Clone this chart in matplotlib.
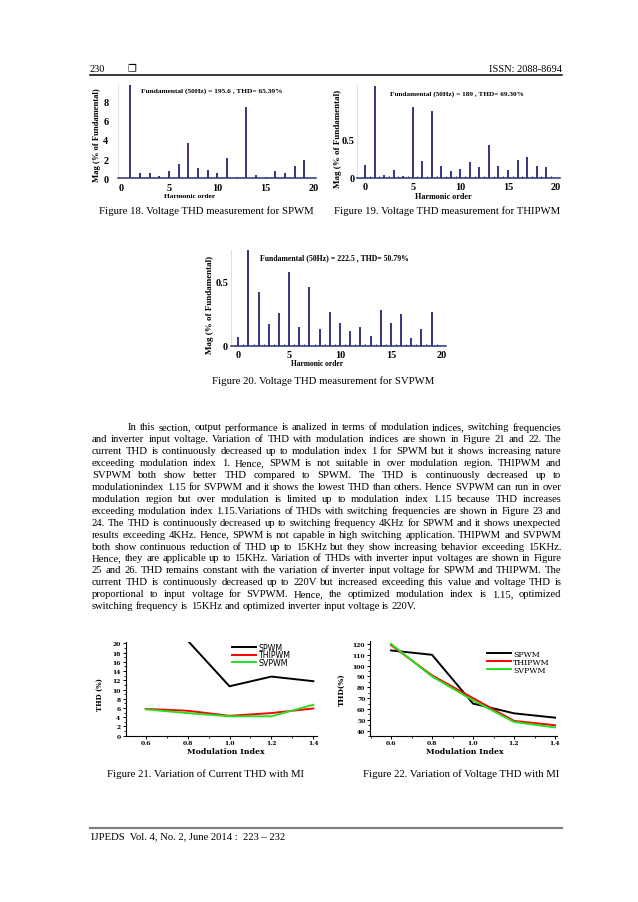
import matplotlib
matplotlib.use("Agg")
import matplotlib.pyplot as plt
from matplotlib.ticker import MultipleLocator

W, H = 638, 903
fig = plt.figure(figsize=(W / 100, H / 100), dpi=100)
fig.patch.set_facecolor("white")

SERIF = ["Liberation Serif", "DejaVu Serif"]
BAR = "#2b2f77"

# ------------------------------------------------------------------ data
harmonic_order = list(range(20))
spwm_mag = [0.0, 9.74, 0.52, 0.52, 0.2, 0.73, 1.5, 3.69, 1.04, 0.9,
            0.52, 2.12, 0.17, 7.41, 0.38, 0.1, 0.8, 0.56, 1.32, 1.95]
thipwm_mag = [0.167, 1.18, 0.04, 0.10, 0.03, 0.906, 0.222, 0.863, 0.15, 0.09,
              0.115, 0.20, 0.137, 0.423, 0.15, 0.107, 0.235, 0.274, 0.158, 0.145]
svpwm_mag = [0.065, 0.743, 0.42, 0.168, 0.25, 0.57, 0.148, 0.453, 0.13, 0.264,
             0.179, 0.111, 0.148, 0.075, 0.277, 0.179, 0.249, 0.06, 0.13, 0.259]
inter_order = [0.5, 1.5, 2.5, 3.5, 4.5, 5.5, 6.5, 7.5, 8.5, 9.5,
               10.5, 11.5, 12.5, 13.5, 14.5, 15.5, 16.5, 17.5, 18.5, 19.5]
thipwm_inter = [0.02, 0.02, 0.02, 0.03, 0.03, 0.02, 0.02, 0.02, 0.02, 0.02,
                0.02, 0.02, 0.02, 0.02, 0.02, 0.02, 0.02, 0.02, 0.02, 0.02]
svpwm_inter = [0.015, 0.015, 0.015, 0.015, 0.015, 0.015, 0.015, 0.015, 0.015, 0.015,
               0.015, 0.015, 0.015, 0.015, 0.015, 0.015, 0.015, 0.015, 0.015, 0.015]

mod_index = [0.6, 0.8, 1.0, 1.2, 1.4]
mod_index_labels = ["0.6", "0.8", "1.0", "1.2", "1.4"]
cur_spwm = [28.0, 20.6, 10.7, 12.8, 11.8]
cur_thipwm = [5.8, 5.4, 4.3, 4.9, 5.9]
cur_svpwm = [5.7, 4.9, 4.2, 4.2, 6.7]
vol_spwm = [114, 110, 65, 56, 52]
vol_thipwm = [119, 91, 70, 49, 45]
vol_svpwm = [120, 90, 68, 48, 43]
series_names = ["SPWM", "THIPWM", "SVPWM"]
series_colors = ["#000000", "#ff0000", "#22e022"]

para_lines = [
    "In this section, output performance is analized in terms of modulation indices, switching frequencies",
    "and inverter input voltage. Variation of THD with modulation indices are shown in Figure 21 and 22. The",
    "current THD is continuously decreased up to modulation index 1 for SPWM but it shows increasing nature",
    "exceeding modulation index 1. Hence, SPWM is not suitable in over modulation region. THIPWM and",
    "SVPWM both show better THD compared to SPWM. The THD is continuously decreased up to",
    "modulationindex 1.15 for SVPWM and it shows the lowest THD than others. Hence SVPWM can run in over",
    "modulation region but over modulation is limited up to modulation index 1.15 because THD increases",
    "exceeding modulation index 1.15.Variations of THDs with switching frequencies are shown in Figure 23 and",
    "24. The THD is continuously decreased up to switching frequency 4KHz for SPWM and it shows unexpected",
    "results exceeding 4KHz. Hence, SPWM is not capable in high switching application. THIPWM and SVPWM",
    "both show continuous reduction of THD up to 15KHz but they show increasing behavior exceeding 15KHz.",
    "Hence, they are applicable up to 15KHz. Variation of THDs with inverter input voltages are shown in Figure",
    "25 and 26. THD remains constant with the variation of inverter input voltage for SPWM and THIPWM. The",
    "current THD is continuously decreased up to 220V but increased exceeding this value and voltage THD is",
    "proportional to input voltage for SVPWM. Hence, the optimized modulation index is 1.15, optimized",
    "switching frequency is 15KHz and optimized inverter input voltage is 220V.",
]

# ------------------------------------------------------------------ helpers
fig.canvas.draw()
renderer = fig.canvas.get_renderer()


def add_ax(l, t, r, b):
    return fig.add_axes([l / W, 1 - b / H, (r - l) / W, (b - t) / H])


def ftxt(x, y, s, **kw):
    return fig.text(x / W, 1 - y / H, s, **kw)


def ext(t):
    return t.get_window_extent(renderer)


def fit(t, target, vertical=False):
    bb = ext(t)
    cur = bb.height if vertical else bb.width
    t.set_fontsize(t.get_fontsize() * target / cur)
    return t.get_fontsize()


def to_axes(box, x, y):
    l, t, r, b = box
    return (x - l) / (r - l), (b - y) / (b - t)


# ------------------------------------------------------------------ spectra
def spectrum(box, xl, yl, mags, inter, yticks, yticklabels, ypad, xpad,
             title, title_xy, title_w, xlab_xy, xlab_w, ylab_xy, ylab_len):
    ax = add_ax(*box)
    ax.vlines(harmonic_order, 0, mags, color=BAR, lw=1.35)
    if inter is not None:
        ax.vlines(inter_order, 0, inter, color=BAR, lw=0.8)
    ax.set_xlim(*xl)
    ax.set_ylim(*yl)
    ax.set_xticks([0, 5, 10, 15, 20])
    ax.set_yticks(yticks)
    ax.set_yticklabels(yticklabels)
    for s in ["top", "right"]:
        ax.spines[s].set_visible(False)
    ax.spines["left"].set_color("#d5d5d5")
    ax.spines["left"].set_linewidth(0.5)
    ax.spines["bottom"].set_color(BAR)
    ax.spines["bottom"].set_linewidth(1.1)
    ax.tick_params(axis="both", length=0, labelsize=7.4)
    ax.tick_params(axis="y", pad=ypad)
    ax.tick_params(axis="x", pad=xpad)
    for lab in ax.get_xticklabels() + ax.get_yticklabels():
        lab.set_fontfamily(SERIF)
        lab.set_fontweight("bold")
    tx, ty = to_axes(box, *title_xy)
    tt = ax.text(tx, ty, title, transform=ax.transAxes, ha="center", va="center",
                 fontfamily=SERIF, fontweight="bold", fontsize=5.5)
    fit(tt, title_w)
    xl_ = ax.set_xlabel("Harmonic order", fontfamily=SERIF, fontweight="bold",
                        fontsize=6, va="center", ha="center")
    ax.xaxis.set_label_coords(*to_axes(box, *xlab_xy))
    fit(xl_, xlab_w)
    yl_ = ax.set_ylabel("Mag (% of Fundamental)", fontfamily=SERIF, fontweight="bold",
                        fontsize=6, va="center", ha="center")
    ax.yaxis.set_label_coords(*to_axes(box, *ylab_xy))
    fit(yl_, ylab_len, vertical=True)
    return ax


box1 = (118, 84.5, 316, 179.3)
spectrum(box1, ((118 - 120.7) / 9.665, (316 - 120.7) / 9.665), (0, 9.9),
         spwm_mag, None, [0, 2, 4, 6, 8], ["0", "2", "4", "6", "8"], 7.0, 3.2,
         "Fundamental (50Hz) = 195.6 , THD= 65.39%", (212, 90.7), 141,
         (190, 196.7), 52, (96.7, 135.5), 95)

box2 = (357, 86.2, 560, 179)
spectrum(box2, ((357 - 365) / 9.535, (560 - 365) / 9.535), (0, 1.19),
         thipwm_mag, thipwm_inter, [0, 0.5], ["0", "0.5"], 1.5, 3.2,
         "Fundamental (50Hz) = 189 , THD= 69.30%", (457, 94), 133,
         (443.7, 197.3), 57, (338, 139), 100)

box3 = (231, 250.7, 446, 346.7)
spectrum(box3, ((231 - 238.3) / 10.17, (446 - 238.3) / 10.17), (0, 0.745),
         svpwm_mag, svpwm_inter, [0, 0.5], ["0", "0.5"], 2.0, 3.0,
         "Fundamental (50Hz) = 222.5 , THD= 50.79%", (334.6, 258.3), 147,
         (316.7, 364), 53, (210, 305), 100)


# ------------------------------------------------------------------ THD vs MI
def thd_axes(box, xl, yl, data, ymajor, yminor, ylabel, ypad, xpad,
             xlab_xy, ylab_xy, leg_xy, leg_family, leg_spacing):
    ax = add_ax(*box)
    for vals, name, c in zip(data, series_names, series_colors):
        ax.plot(mod_index, vals, color=c, lw=1.4, label=name, solid_joinstyle="miter")
    ax.set_xlim(*xl)
    ax.set_ylim(*yl)
    ax.set_xticks(mod_index)
    ax.set_xticklabels(mod_index_labels)
    ax.yaxis.set_major_locator(MultipleLocator(ymajor))
    ax.yaxis.set_minor_locator(MultipleLocator(yminor))
    ax.xaxis.set_minor_locator(MultipleLocator(0.1))
    for s in ["top", "right"]:
        ax.spines[s].set_visible(False)
    for s in ["left", "bottom"]:
        ax.spines[s].set_linewidth(0.8)
    ax.tick_params(which="major", direction="out", length=2.2, width=0.7, labelsize=4.3)
    ax.tick_params(which="minor", direction="out", length=1.2, width=0.6)
    ax.tick_params(axis="y", which="major", pad=ypad)
    ax.tick_params(axis="x", which="major", pad=xpad)
    for lab in ax.get_xticklabels() + ax.get_yticklabels():
        lab.set_fontfamily("DejaVu Serif")
        lab.set_fontweight("bold")
    xl_ = ax.set_xlabel("Modulation Index", fontfamily="DejaVu Serif", fontweight="bold",
                        fontsize=5.5, va="center", ha="center")
    ax.xaxis.set_label_coords(*to_axes(box, *xlab_xy))
    fit(xl_, 77)
    yl_ = ax.set_ylabel(ylabel, fontfamily="DejaVu Serif", fontweight="bold",
                        fontsize=5.5, va="center", ha="center")
    ax.yaxis.set_label_coords(*to_axes(box, *ylab_xy))
    fit(yl_, 33, vertical=True)
    lx, ly = leg_xy
    ax.legend(loc="upper left", bbox_to_anchor=(lx / W, 1 - ly / H),
              bbox_transform=fig.transFigure, frameon=False,
              prop={"family": leg_family, "size": 5.7},
              handlelength=3.0, handletextpad=0.3, labelspacing=leg_spacing,
              borderpad=0, borderaxespad=0)
    return ax


box21 = (125.7, 642.7, 316.7, 736.7)
thd_axes(box21, (0.6 - 20 / 209.5, 1.4 + 3.4 / 209.5), (0, 20.35),
         [cur_spwm, cur_thipwm, cur_svpwm], 2, 1, "THD (%)", 1.6, 0.8,
         (225.7, 751.7), (100, 695), (232, 644.0), "DejaVu Sans", -0.2)

box22 = (370, 641.7, 557.3, 737.3)
thd_axes(box22, (0.6 - 21 / 205, 1.4 + 2.3 / 205), (34.8, 123.0),
         [vol_spwm, vol_thipwm, vol_svpwm], 10, 5, "THD(%)", 1.2, 0.6,
         (465, 751.7), (341.7, 690), (487, 651.0), "DejaVu Serif", 0.0)

# ------------------------------------------------------------------ page text
cap = ftxt(206, 210.7, "Figure 18. Voltage THD measurement for SPWM",
           family=SERIF, fontsize=7.7, ha="center", va="center")
cap_fs = fit(cap, 212)
ftxt(447.5, 210.7, "Figure 19. Voltage THD measurement for THIPWM",
     family=SERIF, fontsize=cap_fs, ha="center", va="center")
ftxt(323.3, 380.7, "Figure 20. Voltage THD measurement for SVPWM",
     family=SERIF, fontsize=cap_fs, ha="center", va="center")
ftxt(205.5, 774, "Figure 21. Variation of Current THD with MI",
     family=SERIF, fontsize=cap_fs, ha="center", va="center")
ftxt(461.5, 774, "Figure 22. Variation of Voltage THD with MI",
     family=SERIF, fontsize=cap_fs, ha="center", va="center")

# header / footer
issn = ftxt(562, 69.5, "ISSN: 2088-8694", family=SERIF, fontsize=7, ha="right", va="center")
hfs = fit(issn, 73)
ftxt(90, 69.5, "230", family=SERIF, fontsize=hfs, ha="left", va="center")
ftxt(127, 69.5, "\u2750", family=["DejaVu Sans"], fontsize=hfs * 0.95, ha="left", va="center")
fig.add_artist(plt.Line2D([90 / W, 562 / W], [1 - 75.7 / H, 1 - 75.7 / H],
                          transform=fig.transFigure, color="black", lw=1.1))
fig.add_artist(plt.Line2D([90 / W, 562 / W], [1 - 829 / H, 1 - 829 / H],
                          transform=fig.transFigure, color="#808080", lw=1.6))
foot = ftxt(90.7, 836.7, "IJPEDS  Vol. 4, No. 2, June 2014 :  223 \u2013 232",
            family=SERIF, fontsize=7, ha="left", va="center")
fit(foot, 197)

# paragraph (justified)
PL, PR, IND = 92.0, 561.5, 128.0
Y0, DY = 428.0, 11.9
pfs = cap_fs


def measure_words(fs):
    res = []
    for line in para_lines:
        ws = line.split(" ")
        ts = [ftxt(0, 0, w, family=SERIF, fontsize=fs) for w in ws]
        wd = [ext(t).width for t in ts]
        for t in ts:
            t.remove()
        res.append((ws, wd))
    return res


space_w = pfs * 100 / 72 * 0.25
meas = measure_words(pfs)
worst = 0
for i, (ws, wd) in enumerate(meas[:-1]):
    start = IND if i == 0 else PL
    nat = sum(wd) + space_w * (len(ws) - 1)
    worst = max(worst, nat / (PR - start))
if worst > 1:
    pfs = pfs / worst / 1.005
    space_w = pfs * 100 / 72 * 0.25
    meas = measure_words(pfs)

for i, (ws, wd) in enumerate(meas):
    start = IND if i == 0 else PL
    y = Y0 + i * DY
    if i < len(meas) - 1 and len(ws) > 1:
        gap = (PR - start - sum(wd)) / (len(ws) - 1)
    else:
        gap = space_w
    x = start
    for w, wdt in zip(ws, wd):
        ftxt(x, y, w, family=SERIF, fontsize=pfs, ha="left", va="center")
        x += wdt + gap

fig.savefig("out.png", dpi=100, facecolor="white")
